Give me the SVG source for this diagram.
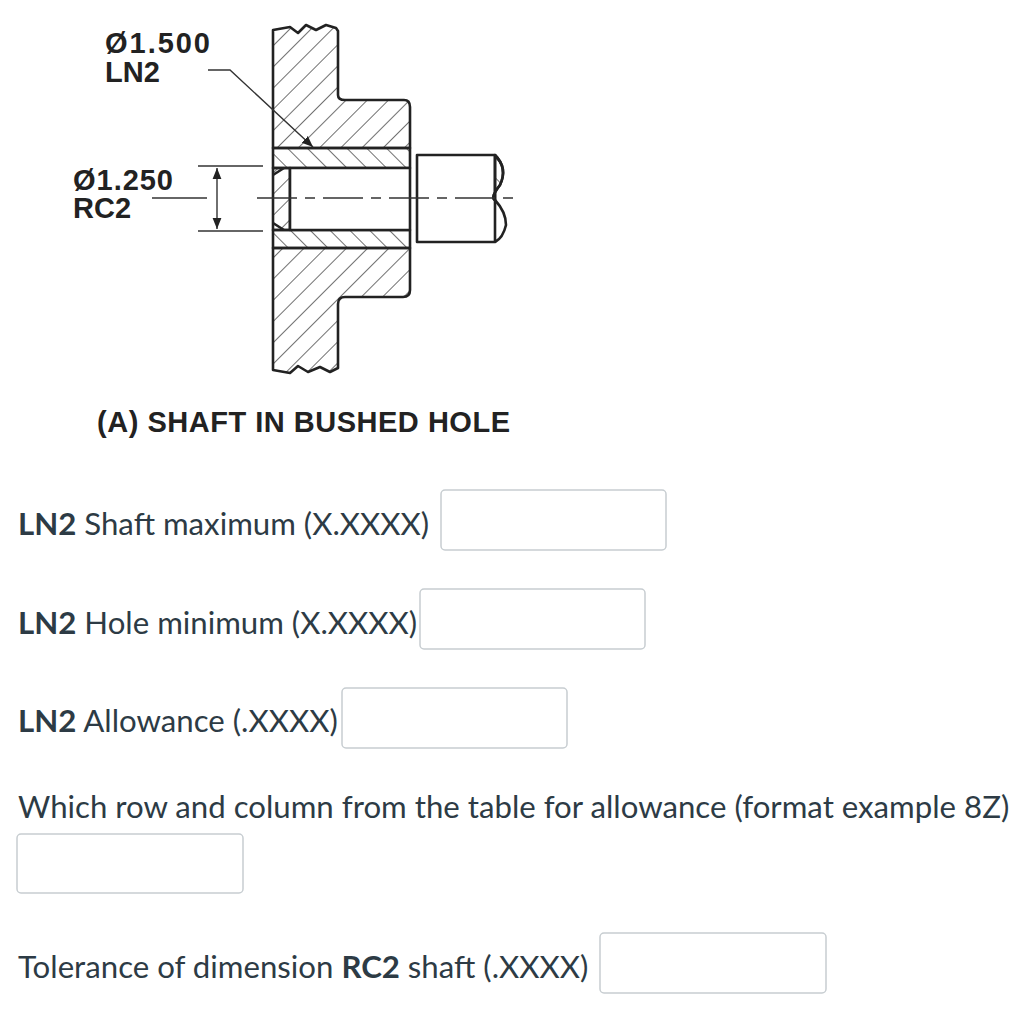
<svg xmlns="http://www.w3.org/2000/svg" width="1024" height="1012" viewBox="0 0 1024 1012">
<defs>
<style>
.o{stroke:#222;stroke-width:2.6;stroke-linejoin:round}
.n{fill:none}
.w{fill:#fff}
.hh{fill:url(#h)}
.h2{fill:url(#h2)}
.t{stroke:#333;stroke-width:1.4;fill:none}
.d{font-family:"Liberation Sans","DejaVu Sans",sans-serif;font-weight:bold;font-size:29px;fill:#222}
.f{font-family:Lato,"Open Sans",sans-serif;font-size:31.2px;fill:#2d3b45}
.b{fill:#fff;stroke:#c7cdd1;stroke-width:1.5}
</style>
<pattern id="h" patternUnits="userSpaceOnUse" width="15" height="15" patternTransform="rotate(45)"><line x1="0" y1="0" x2="0" y2="15" stroke="#333" stroke-width="1.4"/></pattern>
<pattern id="h2" patternUnits="userSpaceOnUse" width="14" height="14" patternTransform="rotate(-45)"><line x1="0" y1="0" x2="0" y2="14" stroke="#333" stroke-width="1.4"/></pattern>
<marker id="a" viewBox="0 0 10 10" refX="10" refY="5" markerWidth="8" markerHeight="8" orient="auto-start-reverse"><path d="M0,1 L10,5 L0,9z" fill="#222"/></marker>
</defs>
<g id="part">
<path class="o hh" d="M273,30 L290,27 L298,33 L306,25 L316,30 L326,25 L336,28 L338,31 L338,95 Q338,100 345,100 L404,100 Q410,100 410,107 L410,148 L273,148 Z"/>
<path class="o hh" d="M273,248 L410,248 L410,290 Q410,297 403,297 L345,297 Q338,297 338,304 L338,368 L330,372 L320,367 L308,372 L298,366 L290,373 L273,370 Z"/>
<path class="o h2" d="M273,148 L410,148 L410,168 L273,168 Z"/>
<path class="o h2" d="M273,230 L410,230 L410,248 L273,248 Z"/>
<path class="o hh" d="M273,168 L290,168 L290,230 L273,230 Z"/>
<path class="o n" d="M273,175 L284,168 M273,223 L284,230"/>
</g>
<g id="shaft">
<rect class="o w" x="290" y="168" width="120" height="62"/>
<path class="o w" d="M417,155 L495,155 L495,242 L417,242 Z"/>
<path class="o h2" d="M495,155 Q508,168 500,185 Q490,198 495,200 Z"/>
<path class="o n" d="M495,155 Q508,168 500,185 Q490,198 495,200 Q506,212 506,225 Q503,238 495,242"/>
</g>
<g id="dims">
<line class="t" x1="257" y1="198" x2="513" y2="198" stroke-dasharray="40,8,10,8"/>
<line class="t" x1="152" y1="198" x2="207" y2="198"/>
<line class="t" x1="198" y1="166" x2="263" y2="166"/>
<line class="t" x1="198" y1="231" x2="263" y2="231"/>
<line class="t" x1="217" y1="168" x2="217" y2="229" marker-start="url(#a)" marker-end="url(#a)"/>
<polyline class="t" points="208,70 230,70 313,147" marker-end="url(#a)"/>
<text class="d" x="105" y="53" textLength="105">Ø1.500</text>
<text class="d" x="105" y="82">LN2</text>
<text class="d" x="73" y="190" textLength="100">Ø1.250</text>
<text class="d" x="73" y="218">RC2</text>
<text class="d" x="97" y="432" textLength="413">(A) SHAFT IN BUSHED HOLE</text>
</g>
<g id="form">
<text class="f" x="18" y="535"><tspan font-weight="bold">LN2</tspan> Shaft maximum (X.XXXX)</text>
<rect class="b" x="441" y="490" width="225" height="60" rx="4"/>
<text class="f" x="18" y="634"><tspan font-weight="bold">LN2</tspan> Hole minimum (X.XXXX)</text>
<rect class="b" x="420" y="589" width="225" height="60" rx="4"/>
<text class="f" x="18" y="732"><tspan font-weight="bold">LN2</tspan> Allowance (.XXXX)</text>
<rect class="b" x="342" y="688" width="225" height="60" rx="4"/>
<text class="f" x="18" y="818">Which row and column from the table for allowance (format example 8Z)</text>
<rect class="b" x="17" y="834" width="226" height="59" rx="4"/>
<text class="f" x="18" y="978">Tolerance of dimension <tspan font-weight="bold">RC2</tspan> shaft (.XXXX)</text>
<rect class="b" x="600" y="933" width="226" height="60" rx="4"/>
</g>
</svg>
